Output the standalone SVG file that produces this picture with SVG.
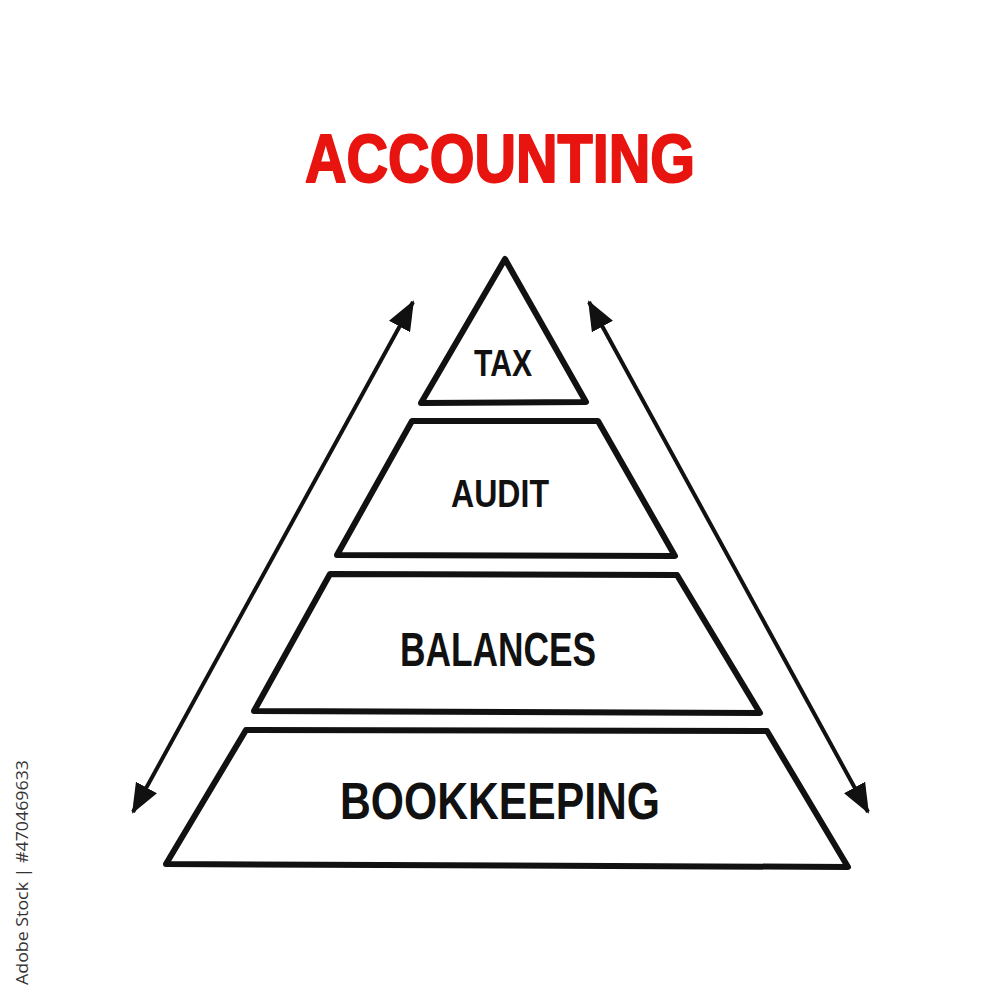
<svg xmlns="http://www.w3.org/2000/svg" width="1000" height="1000" viewBox="0 0 1000 1000">
<defs>
<style>
.lvl{fill:#fff;stroke:#111;stroke-width:6;stroke-linejoin:round}
.lbl{font-family:"Liberation Sans","DejaVu Sans",sans-serif;font-weight:bold;fill:#111;text-anchor:middle}
.arr{stroke:#111;stroke-width:4;fill:none}
</style>
<marker id="head" viewBox="0 0 30 24" refX="28" refY="12" markerWidth="30" markerHeight="24" markerUnits="userSpaceOnUse" orient="auto-start-reverse">
<path d="M0,0 L30,12 L0,24 Z" fill="#111"/>
</marker>
</defs>
<rect width="1000" height="1000" fill="#fff"/>
<text x="500" y="182" font-family="Liberation Sans, DejaVu Sans, sans-serif" font-weight="bold" font-size="68" fill="#e8140f" stroke="#e8140f" stroke-width="2" stroke-linejoin="round" text-anchor="middle" textLength="390" lengthAdjust="spacingAndGlyphs">ACCOUNTING</text>
<g id="connectors">
<line class="arr" x1="133" y1="812" x2="413" y2="302" marker-start="url(#head)" marker-end="url(#head)"/>
<line class="arr" x1="589" y1="302" x2="868" y2="812" marker-start="url(#head)" marker-end="url(#head)"/>
</g>
<g id="tax">
<polygon class="lvl" points="505,259 586,402 421,403"/>
<text class="lbl" x="503" y="376" font-size="36" textLength="58" lengthAdjust="spacingAndGlyphs">TAX</text>
</g>
<g id="audit">
<polygon class="lvl" points="412,421 598,421 675,556 337,555"/>
<text class="lbl" x="500" y="507" font-size="38" textLength="98" lengthAdjust="spacingAndGlyphs">AUDIT</text>
</g>
<g id="balances">
<polygon class="lvl" points="330,574 677,575 760,713 254,711"/>
<text class="lbl" x="498" y="666" font-size="48" textLength="196" lengthAdjust="spacingAndGlyphs">BALANCES</text>
</g>
<g id="bookkeeping">
<polygon class="lvl" points="246,730 767,731 848,867 166,864"/>
<text class="lbl" x="500" y="819" font-size="52" textLength="320" lengthAdjust="spacingAndGlyphs">BOOKKEEPING</text>
</g>
<text transform="translate(28,985) rotate(-90)" font-family="Open Sans, Liberation Sans, sans-serif" font-size="16" fill="#333" textLength="225" lengthAdjust="spacingAndGlyphs">Adobe Stock | #470469633</text>
</svg>
